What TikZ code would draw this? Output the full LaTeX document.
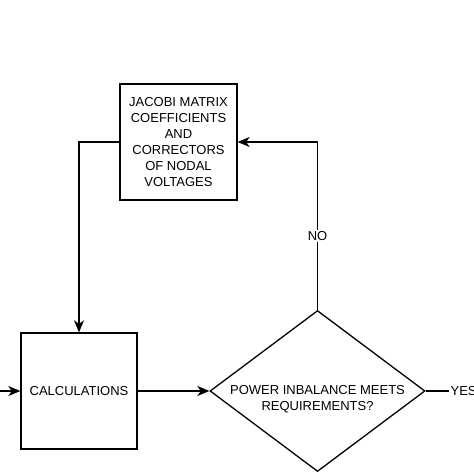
\documentclass[tikz,border=0pt]{standalone}
\usepackage{fontspec}
\setmainfont{Liberation Sans}
\usetikzlibrary{arrows.meta,shapes.geometric}

\begin{document}
\begin{tikzpicture}[x=1pt,y=-1pt,line width=1.3pt,
  font=\fontsize{13}{16}\selectfont,
  arr/.style={-{Stealth[length=12pt,width=10pt,inset=3.5pt]}},
  block/.style={draw,rectangle,align=center,inner sep=0pt}]
\useasboundingbox[fill=white] (0,0) rectangle (474,474);
\node (jacobi) at (178.5,142) [block,minimum width=117pt,minimum height=116pt] {JACOBI MATRIX\\COEFFICIENTS\\AND\\CORRECTORS\\OF NODAL\\VOLTAGES};
\node (calc) at (79,391) [block,minimum width=116pt,minimum height=116pt] {CALCULATIONS};
\node (check) at (317.5,391) [draw,diamond,aspect=1.335,minimum width=215pt,minimum height=161pt,inner sep=0pt] {};
\node (checktext) at (317.5,399) [align=center,inner sep=0pt] {POWER INBALANCE MEETS\\REQUIREMENTS?};
\node (yes) at (449,391) [anchor=west,inner sep=1pt] {YES};
\coordinate (in) at (-2,391);
\draw[arr] (in) -- (calc);
\draw[arr] (calc) -- (check);
\draw (check) -- (yes);
\draw[arr] (check.north) |- node[pos=0.22,fill=white,inner sep=1pt] {NO} (jacobi.east);
\draw[arr] (jacobi.west) -| (calc.north);
\end{tikzpicture}
\end{document}
